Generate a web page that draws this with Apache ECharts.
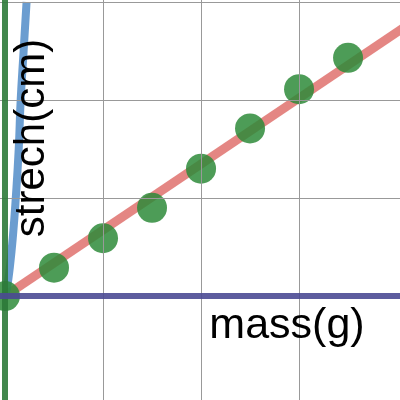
<!DOCTYPE html>
<html>
<head>
<meta charset="UTF-8">
<script src="https://cdn.jsdelivr.net/npm/echarts@6/dist/echarts.min.js"></script>
<style>
  html, body { margin: 0; padding: 0; background: #fff; }
  #chart { width: 400px; height: 400px; }
</style>
</head>
<body>
<div id="chart"></div>
<script>
var massData = [0, 0.5, 1, 1.5, 2, 2.5, 3, 3.5];
var stretchData = [0, 0.29, 0.59, 0.9, 1.3, 1.71, 2.11, 2.43];
var fitLine = [[0, 0], [4.1, 2.76]];
var curveX = [0, 0.02, 0.05, 0.08, 0.11, 0.14, 0.16, 0.19, 0.22];
var curveY = [0, 0.08, 0.3, 0.6, 1.0, 1.5, 2.0, 2.5, 3.0];
var gridX = [1, 2, 3];
var gridY = [1, 2, 3];

var chart = echarts.init(document.getElementById('chart'));

var gridStyle = { color: '#999', width: 1, type: 'solid' };
var markData = gridX.map(function (v) { return { xAxis: v }; })
  .concat(gridY.map(function (v) { return { yAxis: v }; }));

chart.setOption({
  animation: false,
  grid: { left: 0, right: 0, top: 0, bottom: 0 },
  xAxis: { type: 'value', min: -0.051, max: 4.03, show: false },
  yAxis: { type: 'value', min: -1.06, max: 3.02, show: false },
  graphic: [
    { type: 'text', x: 32, y: 138, rotation: Math.PI / 2, z: 10,
      style: { text: 'strech(cm)', font: '42px "Liberation Sans", Arial', fill: '#000',
               align: 'center', verticalAlign: 'middle' } },
    { type: 'text', x: 287, y: 326, z: 10,
      style: { text: 'mass(g)', font: '43px "Liberation Sans", Arial', fill: '#000',
               align: 'center', verticalAlign: 'middle' } }
  ],
  series: [
    {
      type: 'line', data: [], silent: true,
      markLine: { symbol: 'none', silent: true, label: { show: false }, lineStyle: gridStyle, data: markData }
    },
    {
      type: 'line', data: [], silent: true,
      markLine: {
        symbol: 'none', silent: true, label: { show: false },
        data: [
          { xAxis: 0, lineStyle: { color: '#2d7a3a', width: 6, opacity: 0.9, type: 'solid' } },
          { yAxis: 0, lineStyle: { color: '#4b4a94', width: 6, opacity: 0.9, type: 'solid' } }
        ]
      }
    },
    {
      type: 'line', data: fitLine, symbol: 'none',
      lineStyle: { color: '#d9534f', width: 9, opacity: 0.7 }, z: 3
    },
    {
      type: 'line', smooth: true, symbol: 'none',
      data: curveX.map(function (x, i) { return [x, curveY[i]]; }),
      lineStyle: { color: '#3a7cc0', width: 8, opacity: 0.75 }, z: 3
    },
    {
      type: 'scatter', symbolSize: 30,
      data: massData.map(function (x, i) { return [x, stretchData[i]]; }),
      itemStyle: { color: '#2e8b3a', opacity: 0.85 }, z: 4
    }
  ]
});
</script>
</body>
</html>
